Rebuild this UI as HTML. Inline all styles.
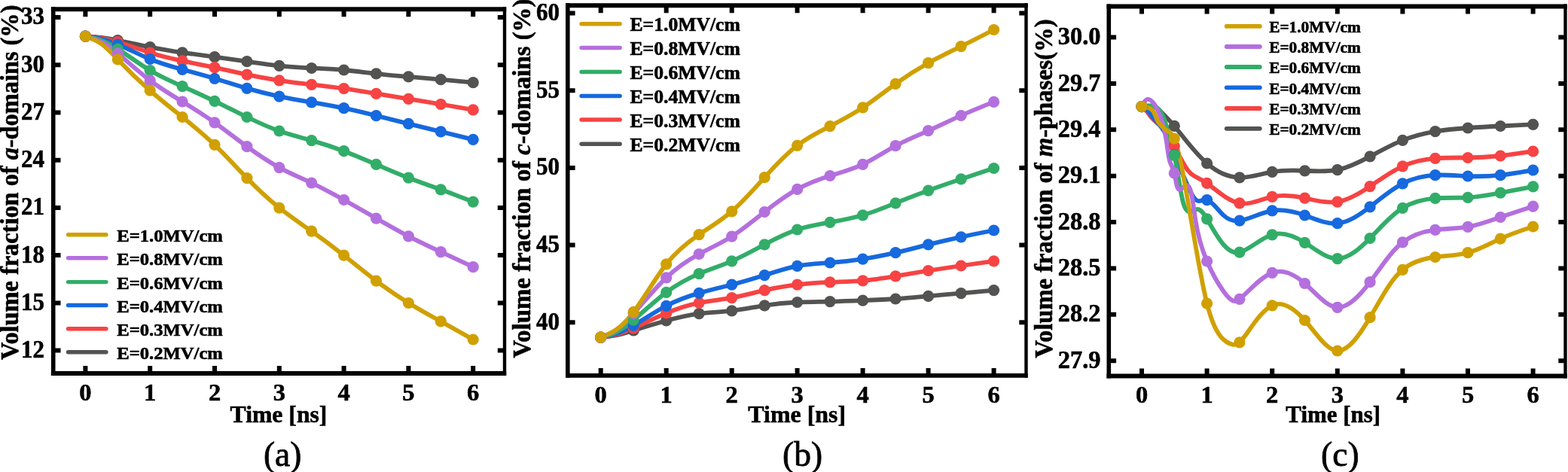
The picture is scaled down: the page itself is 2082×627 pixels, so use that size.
<!DOCTYPE html>
<html><head><meta charset="utf-8"><title>Volume fraction vs time</title>
<style>html,body{margin:0;padding:0;background:#fff;overflow:hidden}svg{display:block}</style>
</head><body>
<svg width="2082" height="627" viewBox="0 0 2082 627" font-family="'Liberation Serif','Times New Roman',serif">
<rect x="0" y="0" width="2082" height="627" fill="#fff"/>
<path d="M113.4,493.6V486.1M113.4,14.7V22.2M199.2,493.6V486.1M199.2,14.7V22.2M285.0,493.6V486.1M285.0,14.7V22.2M370.8,493.6V486.1M370.8,14.7V22.2M456.6,493.6V486.1M456.6,14.7V22.2M542.4,493.6V486.1M542.4,14.7V22.2M628.2,493.6V486.1M628.2,14.7V22.2M73.0,23.0H80.5M668.3,23.0H660.8M73.0,86.2H80.5M668.3,86.2H660.8M73.0,149.5H80.5M668.3,149.5H660.8M73.0,212.7H80.5M668.3,212.7H660.8M73.0,275.9H80.5M668.3,275.9H660.8M73.0,339.1H80.5M668.3,339.1H660.8M73.0,402.4H80.5M668.3,402.4H660.8M73.0,465.6H80.5M668.3,465.6H660.8" stroke="#000" stroke-width="6.0" fill="none"/>
<path d="M113.4,48.2C120.6,48.7 127.7,49.1 134.9,50.0C142.0,50.9 149.2,52.2 156.3,53.6C170.6,56.5 184.9,59.8 199.2,62.6C213.5,65.4 227.8,67.7 242.1,69.8C256.4,71.9 270.7,73.8 285.0,75.7C299.3,77.6 313.6,79.7 327.9,81.7C342.2,83.7 356.5,85.8 370.8,87.3C385.1,88.8 399.4,89.8 413.7,90.5C428.0,91.2 442.3,91.7 456.6,93.0C470.9,94.3 485.2,96.3 499.5,97.9C513.8,99.5 528.1,100.7 542.4,101.9C556.7,103.1 571.0,104.4 585.3,105.7C599.6,107.0 613.9,108.4 628.2,109.7" stroke="#535452" stroke-width="5.8" fill="none" stroke-linejoin="round" stroke-linecap="round"/>
<path d="M113.4,48.2C120.6,48.8 127.7,49.5 134.9,50.7C142.0,51.9 149.2,53.6 156.3,55.7C170.6,59.9 184.9,65.5 199.2,70.0C213.5,74.5 227.8,77.9 242.1,80.9C256.4,83.9 270.7,86.7 285.0,89.7C299.3,92.7 313.6,96.1 327.9,99.1C342.2,102.1 356.5,104.7 370.8,106.9C385.1,109.1 399.4,110.8 413.7,112.4C428.0,114.0 442.3,115.6 456.6,117.6C470.9,119.6 485.2,121.9 499.5,124.3C513.8,126.7 528.1,129.0 542.4,131.4C556.7,133.8 571.0,136.1 585.3,138.5C599.6,140.9 613.9,143.4 628.2,145.9" stroke="#F74343" stroke-width="5.8" fill="none" stroke-linejoin="round" stroke-linecap="round"/>
<path d="M113.4,48.2C120.6,49.1 127.7,50.0 134.9,51.8C142.0,53.5 149.2,56.0 156.3,59.0C170.6,64.9 184.9,72.6 199.2,78.5C213.5,84.4 227.8,88.4 242.1,92.3C256.4,96.2 270.7,100.0 285.0,104.3C299.3,108.6 313.6,113.3 327.9,117.4C342.2,121.5 356.5,125.1 370.8,128.1C385.1,131.1 399.4,133.5 413.7,135.9C428.0,138.3 442.3,140.7 456.6,143.7C470.9,146.7 485.2,150.1 499.5,153.7C513.8,157.3 528.1,160.9 542.4,164.4C556.7,167.9 571.0,171.4 585.3,174.9C599.6,178.4 613.9,181.9 628.2,185.4" stroke="#1669DE" stroke-width="5.8" fill="none" stroke-linejoin="round" stroke-linecap="round"/>
<path d="M113.4,48.2C120.6,49.6 127.7,51.0 134.9,53.7C142.0,56.5 149.2,60.5 156.3,65.0C170.6,74.0 184.9,84.9 199.2,93.5C213.5,102.1 227.8,108.2 242.1,114.6C256.4,121.0 270.7,127.5 285.0,134.4C299.3,141.3 313.6,148.6 327.9,155.5C342.2,162.4 356.5,169.0 370.8,174.0C385.1,179.0 399.4,182.5 413.7,186.6C428.0,190.7 442.3,195.3 456.6,200.7C470.9,206.1 485.2,212.3 499.5,218.4C513.8,224.5 528.1,230.7 542.4,236.2C556.7,241.7 571.0,246.6 585.3,251.8C599.6,257.0 613.9,262.6 628.2,268.1" stroke="#32AD68" stroke-width="5.8" fill="none" stroke-linejoin="round" stroke-linecap="round"/>
<path d="M113.4,48.2C120.6,50.1 127.7,52.0 134.9,55.7C142.0,59.5 149.2,65.1 156.3,71.0C170.6,82.9 184.9,96.0 199.2,106.9C213.5,117.8 227.8,126.3 242.1,135.0C256.4,143.7 270.7,152.7 285.0,162.8C299.3,172.9 313.6,184.2 327.9,194.7C342.2,205.2 356.5,214.8 370.8,222.6C385.1,230.4 399.4,236.2 413.7,243.0C428.0,249.8 442.3,257.5 456.6,265.5C470.9,273.5 485.2,281.9 499.5,290.1C513.8,298.3 528.1,306.5 542.4,313.9C556.7,321.3 571.0,327.9 585.3,334.6C599.6,341.3 613.9,348.0 628.2,354.7" stroke="#B46FDE" stroke-width="5.8" fill="none" stroke-linejoin="round" stroke-linecap="round"/>
<path d="M113.4,48.2C120.6,50.7 127.7,53.2 134.9,58.4C142.0,63.6 149.2,71.5 156.3,79.0C170.6,94.1 184.9,107.7 199.2,120.2C213.5,132.7 227.8,144.0 242.1,155.5C256.4,167.0 270.7,178.7 285.0,192.4C299.3,206.1 313.6,222.0 327.9,236.6C342.2,251.2 356.5,264.6 370.8,276.1C385.1,287.6 399.4,297.1 413.7,307.2C428.0,317.3 442.3,328.0 456.6,339.2C470.9,350.4 485.2,362.3 499.5,373.1C513.8,383.9 528.1,393.7 542.4,402.5C556.7,411.3 571.0,419.0 585.3,426.9C599.6,434.8 613.9,442.9 628.2,451.0" stroke="#D0A000" stroke-width="5.8" fill="none" stroke-linejoin="round" stroke-linecap="round"/>
<g fill="#535452"><circle cx="113.4" cy="48.2" r="7.6"/><circle cx="156.3" cy="53.6" r="7.6"/><circle cx="199.2" cy="62.6" r="7.6"/><circle cx="242.1" cy="69.8" r="7.6"/><circle cx="285.0" cy="75.7" r="7.6"/><circle cx="327.9" cy="81.7" r="7.6"/><circle cx="370.8" cy="87.3" r="7.6"/><circle cx="413.7" cy="90.5" r="7.6"/><circle cx="456.6" cy="93.0" r="7.6"/><circle cx="499.5" cy="97.9" r="7.6"/><circle cx="542.4" cy="101.9" r="7.6"/><circle cx="585.3" cy="105.7" r="7.6"/><circle cx="628.2" cy="109.7" r="7.6"/></g>
<g fill="#F74343"><circle cx="113.4" cy="48.2" r="7.6"/><circle cx="156.3" cy="55.7" r="7.6"/><circle cx="199.2" cy="70.0" r="7.6"/><circle cx="242.1" cy="80.9" r="7.6"/><circle cx="285.0" cy="89.7" r="7.6"/><circle cx="327.9" cy="99.1" r="7.6"/><circle cx="370.8" cy="106.9" r="7.6"/><circle cx="413.7" cy="112.4" r="7.6"/><circle cx="456.6" cy="117.6" r="7.6"/><circle cx="499.5" cy="124.3" r="7.6"/><circle cx="542.4" cy="131.4" r="7.6"/><circle cx="585.3" cy="138.5" r="7.6"/><circle cx="628.2" cy="145.9" r="7.6"/></g>
<g fill="#1669DE"><circle cx="113.4" cy="48.2" r="7.6"/><circle cx="156.3" cy="59.0" r="7.6"/><circle cx="199.2" cy="78.5" r="7.6"/><circle cx="242.1" cy="92.3" r="7.6"/><circle cx="285.0" cy="104.3" r="7.6"/><circle cx="327.9" cy="117.4" r="7.6"/><circle cx="370.8" cy="128.1" r="7.6"/><circle cx="413.7" cy="135.9" r="7.6"/><circle cx="456.6" cy="143.7" r="7.6"/><circle cx="499.5" cy="153.7" r="7.6"/><circle cx="542.4" cy="164.4" r="7.6"/><circle cx="585.3" cy="174.9" r="7.6"/><circle cx="628.2" cy="185.4" r="7.6"/></g>
<g fill="#32AD68"><circle cx="113.4" cy="48.2" r="7.6"/><circle cx="156.3" cy="65.0" r="7.6"/><circle cx="199.2" cy="93.5" r="7.6"/><circle cx="242.1" cy="114.6" r="7.6"/><circle cx="285.0" cy="134.4" r="7.6"/><circle cx="327.9" cy="155.5" r="7.6"/><circle cx="370.8" cy="174.0" r="7.6"/><circle cx="413.7" cy="186.6" r="7.6"/><circle cx="456.6" cy="200.7" r="7.6"/><circle cx="499.5" cy="218.4" r="7.6"/><circle cx="542.4" cy="236.2" r="7.6"/><circle cx="585.3" cy="251.8" r="7.6"/><circle cx="628.2" cy="268.1" r="7.6"/></g>
<g fill="#B46FDE"><circle cx="113.4" cy="48.2" r="7.6"/><circle cx="156.3" cy="71.0" r="7.6"/><circle cx="199.2" cy="106.9" r="7.6"/><circle cx="242.1" cy="135.0" r="7.6"/><circle cx="285.0" cy="162.8" r="7.6"/><circle cx="327.9" cy="194.7" r="7.6"/><circle cx="370.8" cy="222.6" r="7.6"/><circle cx="413.7" cy="243.0" r="7.6"/><circle cx="456.6" cy="265.5" r="7.6"/><circle cx="499.5" cy="290.1" r="7.6"/><circle cx="542.4" cy="313.9" r="7.6"/><circle cx="585.3" cy="334.6" r="7.6"/><circle cx="628.2" cy="354.7" r="7.6"/></g>
<g fill="#D0A000"><circle cx="113.4" cy="48.2" r="7.6"/><circle cx="156.3" cy="79.0" r="7.6"/><circle cx="199.2" cy="120.2" r="7.6"/><circle cx="242.1" cy="155.5" r="7.6"/><circle cx="285.0" cy="192.4" r="7.6"/><circle cx="327.9" cy="236.6" r="7.6"/><circle cx="370.8" cy="276.1" r="7.6"/><circle cx="413.7" cy="307.2" r="7.6"/><circle cx="456.6" cy="339.2" r="7.6"/><circle cx="499.5" cy="373.1" r="7.6"/><circle cx="542.4" cy="402.5" r="7.6"/><circle cx="585.3" cy="426.9" r="7.6"/><circle cx="628.2" cy="451.0" r="7.6"/></g>
<path d="M70.7,9.2V498.9" stroke="#000" stroke-width="5.6" fill="none"/>
<path d="M670.0,9.2V498.9" stroke="#000" stroke-width="4.4" fill="none"/>
<path d="M67.9,12.2H672.2" stroke="#000" stroke-width="6.0" fill="none"/>
<path d="M67.9,496.0H672.2" stroke="#000" stroke-width="5.8" fill="none"/>
<text x="58.9" y="32.4" font-size="33.0" font-weight="bold" text-anchor="end" textLength="30.9" lengthAdjust="spacingAndGlyphs" stroke="#000" stroke-width="0.60">33</text>
<text x="58.9" y="95.6" font-size="33.0" font-weight="bold" text-anchor="end" textLength="30.9" lengthAdjust="spacingAndGlyphs" stroke="#000" stroke-width="0.60">30</text>
<text x="58.9" y="158.9" font-size="33.0" font-weight="bold" text-anchor="end" textLength="30.9" lengthAdjust="spacingAndGlyphs" stroke="#000" stroke-width="0.60">27</text>
<text x="58.9" y="222.1" font-size="33.0" font-weight="bold" text-anchor="end" textLength="30.9" lengthAdjust="spacingAndGlyphs" stroke="#000" stroke-width="0.60">24</text>
<text x="58.9" y="285.3" font-size="33.0" font-weight="bold" text-anchor="end" textLength="30.9" lengthAdjust="spacingAndGlyphs" stroke="#000" stroke-width="0.60">21</text>
<text x="58.9" y="348.5" font-size="33.0" font-weight="bold" text-anchor="end" textLength="30.9" lengthAdjust="spacingAndGlyphs" stroke="#000" stroke-width="0.60">18</text>
<text x="58.9" y="411.8" font-size="33.0" font-weight="bold" text-anchor="end" textLength="30.9" lengthAdjust="spacingAndGlyphs" stroke="#000" stroke-width="0.60">15</text>
<text x="58.9" y="475.0" font-size="33.0" font-weight="bold" text-anchor="end" textLength="30.9" lengthAdjust="spacingAndGlyphs" stroke="#000" stroke-width="0.60">12</text>
<text x="113.4" y="532.2" font-size="32.5" font-weight="bold" text-anchor="middle" stroke="#000" stroke-width="0.60">0</text>
<text x="199.2" y="532.2" font-size="32.5" font-weight="bold" text-anchor="middle" stroke="#000" stroke-width="0.60">1</text>
<text x="285.0" y="532.2" font-size="32.5" font-weight="bold" text-anchor="middle" stroke="#000" stroke-width="0.60">2</text>
<text x="370.8" y="532.2" font-size="32.5" font-weight="bold" text-anchor="middle" stroke="#000" stroke-width="0.60">3</text>
<text x="456.6" y="532.2" font-size="32.5" font-weight="bold" text-anchor="middle" stroke="#000" stroke-width="0.60">4</text>
<text x="542.4" y="532.2" font-size="32.5" font-weight="bold" text-anchor="middle" stroke="#000" stroke-width="0.60">5</text>
<text x="628.2" y="532.2" font-size="32.5" font-weight="bold" text-anchor="middle" stroke="#000" stroke-width="0.60">6</text>
<text x="370.0" y="560.7" font-size="32.4" font-weight="bold" text-anchor="middle" textLength="128.8" lengthAdjust="spacingAndGlyphs" stroke="#000" stroke-width="0.60">Time [ns]</text>
<text transform="translate(23.8,478.0) rotate(-90)" font-size="33.0" font-weight="bold" textLength="471.5" lengthAdjust="spacingAndGlyphs" stroke="#000" stroke-width="0.60">Volume fraction of <tspan font-style="italic">a</tspan>-domains (%)</text>
<path d="M90.5,311.7H140.9" stroke="#D0A000" stroke-width="5.4" stroke-linecap="round"/>
<text x="155.3" y="320.7" font-size="24.0" font-weight="bold" text-anchor="start" textLength="140.6" lengthAdjust="spacingAndGlyphs" stroke="#000" stroke-width="0.60">E=1.0MV/cm</text>
<path d="M90.5,342.7H140.9" stroke="#B46FDE" stroke-width="5.4" stroke-linecap="round"/>
<text x="155.3" y="351.7" font-size="24.0" font-weight="bold" text-anchor="start" textLength="140.6" lengthAdjust="spacingAndGlyphs" stroke="#000" stroke-width="0.60">E=0.8MV/cm</text>
<path d="M90.5,374.6H140.9" stroke="#32AD68" stroke-width="5.4" stroke-linecap="round"/>
<text x="155.3" y="383.6" font-size="24.0" font-weight="bold" text-anchor="start" textLength="140.6" lengthAdjust="spacingAndGlyphs" stroke="#000" stroke-width="0.60">E=0.6MV/cm</text>
<path d="M90.5,405.5H140.9" stroke="#1669DE" stroke-width="5.4" stroke-linecap="round"/>
<text x="155.3" y="414.5" font-size="24.0" font-weight="bold" text-anchor="start" textLength="140.6" lengthAdjust="spacingAndGlyphs" stroke="#000" stroke-width="0.60">E=0.4MV/cm</text>
<path d="M90.5,436.8H140.9" stroke="#F74343" stroke-width="5.4" stroke-linecap="round"/>
<text x="155.3" y="445.8" font-size="24.0" font-weight="bold" text-anchor="start" textLength="140.6" lengthAdjust="spacingAndGlyphs" stroke="#000" stroke-width="0.60">E=0.3MV/cm</text>
<path d="M90.5,467.8H140.9" stroke="#535452" stroke-width="5.4" stroke-linecap="round"/>
<text x="155.3" y="476.8" font-size="24.0" font-weight="bold" text-anchor="start" textLength="140.6" lengthAdjust="spacingAndGlyphs" stroke="#000" stroke-width="0.60">E=0.2MV/cm</text>
<text x="375.2" y="618.6" font-size="45.5" font-weight="normal" text-anchor="middle" stroke="#000" stroke-width="0.80">(a)</text>
<path d="M797.7,496.4V488.9M797.7,9.7V17.2M884.7,496.4V488.9M884.7,9.7V17.2M971.7,496.4V488.9M971.7,9.7V17.2M1058.6,496.4V488.9M1058.6,9.7V17.2M1145.6,496.4V488.9M1145.6,9.7V17.2M1232.6,496.4V488.9M1232.6,9.7V17.2M1319.6,496.4V488.9M1319.6,9.7V17.2M756.1,17.5H763.6M1360.8,17.5H1353.3M756.1,120.2H763.6M1360.8,120.2H1353.3M756.1,222.9H763.6M1360.8,222.9H1353.3M756.1,325.6H763.6M1360.8,325.6H1353.3M756.1,428.3H763.6M1360.8,428.3H1353.3" stroke="#000" stroke-width="6.0" fill="none"/>
<path d="M797.7,448.2C804.9,447.5 812.2,446.7 819.4,445.2C826.7,443.6 833.9,441.3 841.2,439.0C855.7,434.4 870.2,430.0 884.7,426.0C899.2,422.0 913.7,418.5 928.2,416.6C942.7,414.7 957.2,414.5 971.7,412.8C986.2,411.1 1000.7,408.0 1015.2,405.8C1029.6,403.6 1044.1,402.2 1058.6,401.5C1073.1,400.8 1087.6,400.9 1102.1,400.6C1116.6,400.3 1131.1,399.8 1145.6,399.2C1160.1,398.6 1174.6,398.0 1189.1,397.0C1203.6,396.0 1218.1,394.6 1232.6,393.3C1247.1,392.0 1261.6,390.9 1276.1,389.6C1290.6,388.3 1305.1,387.0 1319.6,385.6" stroke="#535452" stroke-width="5.8" fill="none" stroke-linejoin="round" stroke-linecap="round"/>
<path d="M797.7,448.2C804.9,447.2 812.2,446.1 819.4,444.1C826.7,442.1 833.9,439.1 841.2,435.9C855.7,429.4 870.2,422.0 884.7,415.9C899.2,409.8 913.7,405.2 928.2,402.3C942.7,399.4 957.2,398.2 971.7,395.6C986.2,393.0 1000.7,389.0 1015.2,385.7C1029.6,382.4 1044.1,380.0 1058.6,378.2C1073.1,376.4 1087.6,375.4 1102.1,374.8C1116.6,374.2 1131.1,374.0 1145.6,372.8C1160.1,371.6 1174.6,369.2 1189.1,366.8C1203.6,364.4 1218.1,361.8 1232.6,359.5C1247.1,357.2 1261.6,355.1 1276.1,353.0C1290.6,350.9 1305.1,348.9 1319.6,346.9" stroke="#F74343" stroke-width="5.8" fill="none" stroke-linejoin="round" stroke-linecap="round"/>
<path d="M797.7,448.2C804.9,446.9 812.2,445.5 819.4,443.0C826.7,440.4 833.9,436.5 841.2,432.3C855.7,423.8 870.2,413.9 884.7,406.3C899.2,398.7 913.7,393.6 928.2,389.4C942.7,385.2 957.2,381.9 971.7,378.2C986.2,374.5 1000.7,370.2 1015.2,365.6C1029.6,361.0 1044.1,356.0 1058.6,353.3C1073.1,350.6 1087.6,350.1 1102.1,349.0C1116.6,347.9 1131.1,346.3 1145.6,344.1C1160.1,341.9 1174.6,339.0 1189.1,335.7C1203.6,332.4 1218.1,328.5 1232.6,324.9C1247.1,321.3 1261.6,317.9 1276.1,314.8C1290.6,311.7 1305.1,308.8 1319.6,306.0" stroke="#1669DE" stroke-width="5.8" fill="none" stroke-linejoin="round" stroke-linecap="round"/>
<path d="M797.7,448.2C804.9,446.3 812.2,444.4 819.4,440.6C826.7,436.8 833.9,431.2 841.2,425.1C855.7,413.0 870.2,399.2 884.7,388.4C899.2,377.6 913.7,369.8 928.2,363.7C942.7,357.6 957.2,353.2 971.7,346.9C986.2,340.6 1000.7,332.5 1015.2,324.8C1029.6,317.1 1044.1,309.8 1058.6,305.0C1073.1,300.2 1087.6,297.8 1102.1,295.3C1116.6,292.8 1131.1,290.1 1145.6,285.8C1160.1,281.5 1174.6,275.6 1189.1,269.8C1203.6,264.0 1218.1,258.4 1232.6,253.1C1247.1,247.8 1261.6,242.8 1276.1,237.9C1290.6,233.0 1305.1,228.3 1319.6,223.5" stroke="#32AD68" stroke-width="5.8" fill="none" stroke-linejoin="round" stroke-linecap="round"/>
<path d="M797.7,448.2C804.9,445.6 812.2,443.0 819.4,437.7C826.7,432.5 833.9,424.7 841.2,416.5C855.7,400.2 870.2,382.5 884.7,368.8C899.2,355.1 913.7,345.5 928.2,337.5C942.7,329.5 957.2,323.3 971.7,314.1C986.2,304.9 1000.7,292.9 1015.2,281.5C1029.6,270.1 1044.1,259.4 1058.6,251.4C1073.1,243.4 1087.6,238.1 1102.1,233.5C1116.6,228.9 1131.1,225.1 1145.6,218.3C1160.1,211.5 1174.6,201.5 1189.1,193.7C1203.6,185.9 1218.1,180.1 1232.6,173.6C1247.1,167.1 1261.6,160.0 1276.1,153.5C1290.6,147.0 1305.1,141.2 1319.6,135.4" stroke="#B46FDE" stroke-width="5.8" fill="none" stroke-linejoin="round" stroke-linecap="round"/>
<path d="M797.7,448.2C804.9,445.3 812.2,442.4 819.4,437.0C826.7,431.7 833.9,423.9 841.2,414.4C855.7,395.4 870.2,369.4 884.7,350.9C899.2,332.4 913.7,321.4 928.2,311.6C942.7,301.8 957.2,293.3 971.7,280.8C986.2,268.3 1000.7,251.6 1015.2,235.7C1029.6,219.8 1044.1,204.5 1058.6,193.3C1073.1,182.1 1087.6,175.0 1102.1,167.6C1116.6,160.2 1131.1,152.5 1145.6,142.9C1160.1,133.3 1174.6,121.7 1189.1,111.3C1203.6,100.9 1218.1,91.7 1232.6,83.7C1247.1,75.7 1261.6,68.8 1276.1,61.6C1290.6,54.4 1305.1,47.0 1319.6,39.5" stroke="#D0A000" stroke-width="5.8" fill="none" stroke-linejoin="round" stroke-linecap="round"/>
<g fill="#535452"><circle cx="797.7" cy="448.2" r="7.6"/><circle cx="841.2" cy="439.0" r="7.6"/><circle cx="884.7" cy="426.0" r="7.6"/><circle cx="928.2" cy="416.6" r="7.6"/><circle cx="971.7" cy="412.8" r="7.6"/><circle cx="1015.2" cy="405.8" r="7.6"/><circle cx="1058.6" cy="401.5" r="7.6"/><circle cx="1102.1" cy="400.6" r="7.6"/><circle cx="1145.6" cy="399.2" r="7.6"/><circle cx="1189.1" cy="397.0" r="7.6"/><circle cx="1232.6" cy="393.3" r="7.6"/><circle cx="1276.1" cy="389.6" r="7.6"/><circle cx="1319.6" cy="385.6" r="7.6"/></g>
<g fill="#F74343"><circle cx="797.7" cy="448.2" r="7.6"/><circle cx="841.2" cy="435.9" r="7.6"/><circle cx="884.7" cy="415.9" r="7.6"/><circle cx="928.2" cy="402.3" r="7.6"/><circle cx="971.7" cy="395.6" r="7.6"/><circle cx="1015.2" cy="385.7" r="7.6"/><circle cx="1058.6" cy="378.2" r="7.6"/><circle cx="1102.1" cy="374.8" r="7.6"/><circle cx="1145.6" cy="372.8" r="7.6"/><circle cx="1189.1" cy="366.8" r="7.6"/><circle cx="1232.6" cy="359.5" r="7.6"/><circle cx="1276.1" cy="353.0" r="7.6"/><circle cx="1319.6" cy="346.9" r="7.6"/></g>
<g fill="#1669DE"><circle cx="797.7" cy="448.2" r="7.6"/><circle cx="841.2" cy="432.3" r="7.6"/><circle cx="884.7" cy="406.3" r="7.6"/><circle cx="928.2" cy="389.4" r="7.6"/><circle cx="971.7" cy="378.2" r="7.6"/><circle cx="1015.2" cy="365.6" r="7.6"/><circle cx="1058.6" cy="353.3" r="7.6"/><circle cx="1102.1" cy="349.0" r="7.6"/><circle cx="1145.6" cy="344.1" r="7.6"/><circle cx="1189.1" cy="335.7" r="7.6"/><circle cx="1232.6" cy="324.9" r="7.6"/><circle cx="1276.1" cy="314.8" r="7.6"/><circle cx="1319.6" cy="306.0" r="7.6"/></g>
<g fill="#32AD68"><circle cx="797.7" cy="448.2" r="7.6"/><circle cx="841.2" cy="425.1" r="7.6"/><circle cx="884.7" cy="388.4" r="7.6"/><circle cx="928.2" cy="363.7" r="7.6"/><circle cx="971.7" cy="346.9" r="7.6"/><circle cx="1015.2" cy="324.8" r="7.6"/><circle cx="1058.6" cy="305.0" r="7.6"/><circle cx="1102.1" cy="295.3" r="7.6"/><circle cx="1145.6" cy="285.8" r="7.6"/><circle cx="1189.1" cy="269.8" r="7.6"/><circle cx="1232.6" cy="253.1" r="7.6"/><circle cx="1276.1" cy="237.9" r="7.6"/><circle cx="1319.6" cy="223.5" r="7.6"/></g>
<g fill="#B46FDE"><circle cx="797.7" cy="448.2" r="7.6"/><circle cx="841.2" cy="416.5" r="7.6"/><circle cx="884.7" cy="368.8" r="7.6"/><circle cx="928.2" cy="337.5" r="7.6"/><circle cx="971.7" cy="314.1" r="7.6"/><circle cx="1015.2" cy="281.5" r="7.6"/><circle cx="1058.6" cy="251.4" r="7.6"/><circle cx="1102.1" cy="233.5" r="7.6"/><circle cx="1145.6" cy="218.3" r="7.6"/><circle cx="1189.1" cy="193.7" r="7.6"/><circle cx="1232.6" cy="173.6" r="7.6"/><circle cx="1276.1" cy="153.5" r="7.6"/><circle cx="1319.6" cy="135.4" r="7.6"/></g>
<g fill="#D0A000"><circle cx="797.7" cy="448.2" r="7.6"/><circle cx="841.2" cy="414.4" r="7.6"/><circle cx="884.7" cy="350.9" r="7.6"/><circle cx="928.2" cy="311.6" r="7.6"/><circle cx="971.7" cy="280.8" r="7.6"/><circle cx="1015.2" cy="235.7" r="7.6"/><circle cx="1058.6" cy="193.3" r="7.6"/><circle cx="1102.1" cy="167.6" r="7.6"/><circle cx="1145.6" cy="142.9" r="7.6"/><circle cx="1189.1" cy="111.3" r="7.6"/><circle cx="1232.6" cy="83.7" r="7.6"/><circle cx="1276.1" cy="61.6" r="7.6"/><circle cx="1319.6" cy="39.5" r="7.6"/></g>
<path d="M753.8,4.2V501.7" stroke="#000" stroke-width="5.6" fill="none"/>
<path d="M1362.5,4.2V501.7" stroke="#000" stroke-width="4.4" fill="none"/>
<path d="M751.0,7.2H1364.7" stroke="#000" stroke-width="6.0" fill="none"/>
<path d="M751.0,498.8H1364.7" stroke="#000" stroke-width="5.8" fill="none"/>
<text x="742.9" y="26.8" font-size="33.0" font-weight="bold" text-anchor="end" textLength="31.0" lengthAdjust="spacingAndGlyphs" stroke="#000" stroke-width="0.60">60</text>
<text x="742.9" y="129.5" font-size="33.0" font-weight="bold" text-anchor="end" textLength="31.0" lengthAdjust="spacingAndGlyphs" stroke="#000" stroke-width="0.60">55</text>
<text x="742.9" y="232.2" font-size="33.0" font-weight="bold" text-anchor="end" textLength="31.0" lengthAdjust="spacingAndGlyphs" stroke="#000" stroke-width="0.60">50</text>
<text x="742.9" y="334.9" font-size="33.0" font-weight="bold" text-anchor="end" textLength="31.0" lengthAdjust="spacingAndGlyphs" stroke="#000" stroke-width="0.60">45</text>
<text x="742.9" y="437.6" font-size="33.0" font-weight="bold" text-anchor="end" textLength="31.0" lengthAdjust="spacingAndGlyphs" stroke="#000" stroke-width="0.60">40</text>
<text x="797.7" y="535.3" font-size="32.5" font-weight="bold" text-anchor="middle" stroke="#000" stroke-width="0.60">0</text>
<text x="884.7" y="535.3" font-size="32.5" font-weight="bold" text-anchor="middle" stroke="#000" stroke-width="0.60">1</text>
<text x="971.7" y="535.3" font-size="32.5" font-weight="bold" text-anchor="middle" stroke="#000" stroke-width="0.60">2</text>
<text x="1058.6" y="535.3" font-size="32.5" font-weight="bold" text-anchor="middle" stroke="#000" stroke-width="0.60">3</text>
<text x="1145.6" y="535.3" font-size="32.5" font-weight="bold" text-anchor="middle" stroke="#000" stroke-width="0.60">4</text>
<text x="1232.6" y="535.3" font-size="32.5" font-weight="bold" text-anchor="middle" stroke="#000" stroke-width="0.60">5</text>
<text x="1319.6" y="535.3" font-size="32.5" font-weight="bold" text-anchor="middle" stroke="#000" stroke-width="0.60">6</text>
<text x="1058.2" y="560.8" font-size="32.4" font-weight="bold" text-anchor="middle" textLength="129.8" lengthAdjust="spacingAndGlyphs" stroke="#000" stroke-width="0.60">Time [ns]</text>
<text transform="translate(704.3,475.6) rotate(-90)" font-size="33.5" font-weight="bold" textLength="477.0" lengthAdjust="spacingAndGlyphs" stroke="#000" stroke-width="0.60">Volume fraction of <tspan font-style="italic">c</tspan>-domains (%)</text>
<path d="M772.1,31.7H823.1" stroke="#D0A000" stroke-width="5.5" stroke-linecap="round"/>
<text x="836.4" y="41.3" font-size="26.0" font-weight="bold" text-anchor="start" textLength="146.5" lengthAdjust="spacingAndGlyphs" stroke="#000" stroke-width="0.60">E=1.0MV/cm</text>
<path d="M772.1,63.6H823.1" stroke="#B46FDE" stroke-width="5.5" stroke-linecap="round"/>
<text x="836.4" y="73.2" font-size="26.0" font-weight="bold" text-anchor="start" textLength="146.5" lengthAdjust="spacingAndGlyphs" stroke="#000" stroke-width="0.60">E=0.8MV/cm</text>
<path d="M772.1,95.5H823.1" stroke="#32AD68" stroke-width="5.5" stroke-linecap="round"/>
<text x="836.4" y="105.1" font-size="26.0" font-weight="bold" text-anchor="start" textLength="146.5" lengthAdjust="spacingAndGlyphs" stroke="#000" stroke-width="0.60">E=0.6MV/cm</text>
<path d="M772.1,127.5H823.1" stroke="#1669DE" stroke-width="5.5" stroke-linecap="round"/>
<text x="836.4" y="137.1" font-size="26.0" font-weight="bold" text-anchor="start" textLength="146.5" lengthAdjust="spacingAndGlyphs" stroke="#000" stroke-width="0.60">E=0.4MV/cm</text>
<path d="M772.1,159.1H823.1" stroke="#F74343" stroke-width="5.5" stroke-linecap="round"/>
<text x="836.4" y="168.7" font-size="26.0" font-weight="bold" text-anchor="start" textLength="146.5" lengthAdjust="spacingAndGlyphs" stroke="#000" stroke-width="0.60">E=0.3MV/cm</text>
<path d="M772.1,191.3H823.1" stroke="#535452" stroke-width="5.5" stroke-linecap="round"/>
<text x="836.4" y="200.9" font-size="26.0" font-weight="bold" text-anchor="start" textLength="146.5" lengthAdjust="spacingAndGlyphs" stroke="#000" stroke-width="0.60">E=0.2MV/cm</text>
<text x="1065.6" y="618.6" font-size="45.5" font-weight="normal" text-anchor="middle" stroke="#000" stroke-width="0.80">(b)</text>
<path d="M1516.0,497.1V489.6M1516.0,11.1V18.6M1602.6,497.1V489.6M1602.6,11.1V18.6M1689.2,497.1V489.6M1689.2,11.1V18.6M1775.8,497.1V489.6M1775.8,11.1V18.6M1862.4,497.1V489.6M1862.4,11.1V18.6M1949.0,497.1V489.6M1949.0,11.1V18.6M2035.6,497.1V489.6M2035.6,11.1V18.6M1474.6,49.5H1482.1M2076.8,49.5H2069.3M1474.6,110.9H1482.1M2076.8,110.9H2069.3M1474.6,172.3H1482.1M2076.8,172.3H2069.3M1474.6,233.7H1482.1M2076.8,233.7H2069.3M1474.6,295.1H1482.1M2076.8,295.1H2069.3M1474.6,356.4H1482.1M2076.8,356.4H2069.3M1474.6,417.8H1482.1M2076.8,417.8H2069.3M1474.6,479.2H1482.1M2076.8,479.2H2069.3" stroke="#000" stroke-width="6.0" fill="none"/>
<path d="M1516.0,141.6C1521.6,140.7 1527.2,139.7 1532.0,141.5C1536.9,143.3 1541.1,148.0 1545.0,152.0C1549.4,156.5 1553.4,160.3 1559.3,167.3C1569.7,179.8 1585.9,202.6 1602.6,217.0C1616.7,229.2 1631.1,235.5 1645.9,235.8C1660.1,236.1 1674.7,230.9 1689.2,228.4C1703.6,225.9 1718.0,226.1 1732.5,226.8C1747.0,227.5 1761.6,228.6 1775.8,225.7C1790.6,222.7 1804.9,215.5 1819.1,207.9C1833.5,200.2 1847.7,192.3 1862.4,186.4C1876.5,180.8 1891.1,177.1 1905.7,174.6C1920.1,172.2 1934.5,171.0 1949.0,170.0C1963.4,169.0 1977.9,168.2 1992.3,167.5C2006.7,166.8 2021.2,166.0 2035.6,165.3" stroke="#535452" stroke-width="5.8" fill="none" stroke-linejoin="round" stroke-linecap="round"/>
<path d="M1516.0,141.6C1518.1,143.2 1520.1,144.9 1522.0,147.0C1524.1,149.4 1525.9,152.3 1528.0,155.0C1530.3,157.9 1533.0,160.4 1536.0,163.0C1539.3,165.8 1543.0,168.7 1546.0,172.0C1548.9,175.2 1551.1,178.7 1553.0,182.0C1555.0,185.4 1556.6,188.5 1559.3,194.0C1563.8,203.0 1571.4,218.4 1577.0,226.0C1580.2,230.4 1582.7,232.2 1586.0,234.0C1590.1,236.3 1595.5,238.4 1602.6,243.4C1614.1,251.5 1630.2,267.0 1645.9,269.9C1660.5,272.6 1674.8,264.5 1689.2,261.4C1703.5,258.3 1718.0,260.2 1732.5,263.2C1747.0,266.2 1761.6,270.2 1775.8,268.1C1790.7,265.9 1805.1,257.1 1819.1,247.6C1833.5,237.9 1847.5,227.5 1862.4,220.8C1876.3,214.5 1891.0,211.5 1905.7,210.3C1920.2,209.1 1934.6,209.6 1949.0,209.5C1963.4,209.4 1977.9,208.5 1992.3,207.0C2006.8,205.5 2021.2,203.2 2035.6,201.0" stroke="#F74343" stroke-width="5.8" fill="none" stroke-linejoin="round" stroke-linecap="round"/>
<path d="M1516.0,141.6C1518.9,143.2 1521.8,144.8 1524.0,147.0C1526.3,149.3 1527.9,152.2 1530.0,155.0C1532.3,158.0 1535.3,160.9 1538.0,164.0C1540.9,167.3 1543.5,170.9 1546.0,175.0C1548.6,179.4 1551.1,184.3 1553.0,189.0C1555.1,194.0 1556.5,198.6 1559.3,205.5C1563.4,215.9 1570.4,231.4 1575.0,242.0C1578.2,249.3 1580.2,254.1 1583.0,259.0C1585.2,262.8 1587.7,266.5 1591.0,267.0C1594.3,267.5 1598.3,264.6 1602.6,265.6C1609.5,267.3 1617.1,279.0 1624.6,286.0C1631.1,292.0 1637.5,294.4 1645.9,293.2C1657.9,291.5 1674.0,282.5 1689.2,279.9C1704.1,277.3 1718.2,280.9 1732.5,286.0C1746.9,291.2 1761.5,297.9 1775.8,296.7C1790.7,295.4 1805.2,285.5 1819.1,274.8C1833.6,263.6 1847.4,251.5 1862.4,243.8C1876.2,236.8 1891.0,233.5 1905.7,232.7C1920.2,231.9 1934.6,233.4 1949.0,234.0C1963.4,234.6 1977.9,234.2 1992.3,232.7C2006.8,231.2 2021.2,228.6 2035.6,226.0" stroke="#1669DE" stroke-width="5.8" fill="none" stroke-linejoin="round" stroke-linecap="round"/>
<path d="M1516.0,141.6C1520.1,141.0 1524.2,140.3 1528.0,140.5C1531.3,140.6 1534.4,141.4 1537.0,143.5C1540.3,146.2 1542.9,151.0 1545.0,156.0C1547.4,161.8 1549.0,168.0 1551.0,175.0C1553.5,183.9 1556.7,194.3 1559.3,206.3C1562.5,221.1 1565.0,238.3 1568.0,255.0C1570.3,267.5 1572.8,279.7 1578.0,281.0C1581.5,281.9 1586.1,278.0 1590.0,278.0C1594.7,278.0 1598.4,283.7 1602.6,290.8C1608.9,301.5 1616.4,315.5 1624.6,325.0C1630.8,332.3 1637.5,337.0 1645.9,335.2C1658.0,332.6 1673.7,316.4 1689.2,311.8C1703.9,307.4 1718.4,313.5 1732.5,322.3C1747.2,331.5 1761.4,343.7 1775.8,343.6C1790.6,343.5 1805.4,330.4 1819.1,316.5C1833.8,301.6 1847.0,285.8 1862.4,276.3C1875.8,268.0 1890.8,264.6 1905.7,263.4C1920.2,262.2 1934.6,263.2 1949.0,262.4C1963.4,261.6 1977.9,258.9 1992.3,256.2C2006.8,253.5 2021.2,250.7 2035.6,247.9" stroke="#32AD68" stroke-width="5.8" fill="none" stroke-linejoin="round" stroke-linecap="round"/>
<path d="M1516.0,141.6C1518.1,137.2 1520.2,132.8 1523.0,132.0C1525.2,131.4 1527.9,133.0 1530.0,135.0C1532.3,137.2 1533.9,139.8 1535.5,143.0C1537.5,147.0 1539.7,152.0 1541.5,157.0C1543.4,162.2 1544.8,167.6 1546.0,173.0C1547.3,178.9 1548.5,184.9 1549.5,192.0C1550.6,199.8 1551.5,208.9 1553.5,215.0C1555.2,220.1 1557.6,223.2 1559.3,230.0C1561.3,238.1 1562.2,251.6 1566.0,252.0C1568.7,252.3 1572.9,246.0 1576.0,246.0C1582.1,245.9 1584.0,270.1 1587.0,290.0C1590.4,312.7 1595.3,330.0 1602.6,347.0C1609.0,362.0 1617.3,376.8 1624.6,387.0C1629.1,393.3 1633.3,397.9 1637.0,399.5C1639.7,400.6 1642.1,400.2 1645.9,397.4C1655.2,390.4 1672.5,368.4 1689.2,362.4C1704.3,357.0 1718.8,364.6 1732.5,376.5C1747.4,389.5 1761.3,407.5 1775.8,408.3C1790.5,409.1 1805.7,392.3 1819.1,374.7C1834.0,355.0 1846.6,334.2 1862.4,321.9C1875.4,311.8 1890.6,307.4 1905.7,305.4C1920.3,303.5 1934.7,303.8 1949.0,301.4C1963.5,298.9 1977.9,293.5 1992.3,288.5C2006.7,283.5 2021.2,278.8 2035.6,274.2" stroke="#B46FDE" stroke-width="5.8" fill="none" stroke-linejoin="round" stroke-linecap="round"/>
<path d="M1516.0,141.6C1520.0,142.0 1524.0,142.4 1527.0,144.0C1529.7,145.5 1531.6,148.0 1533.0,151.0C1534.6,154.3 1535.7,158.3 1537.5,161.5C1539.2,164.5 1541.6,166.8 1544.0,169.0C1546.3,171.1 1548.7,173.0 1551.0,174.5C1553.8,176.2 1556.4,177.3 1559.3,184.1C1571.4,212.8 1587.6,343.7 1602.6,403.2C1609.9,432.1 1616.9,444.2 1624.6,451.0C1628.4,454.4 1632.4,456.5 1636.0,457.5C1639.2,458.4 1642.0,458.5 1645.9,454.9C1655.7,445.9 1672.1,413.7 1689.2,405.8C1703.8,399.1 1718.8,410.1 1732.5,425.5C1747.8,442.7 1761.5,465.4 1775.8,466.0C1790.5,466.6 1805.8,444.1 1819.1,421.7C1833.9,396.8 1846.0,372.1 1862.4,358.3C1875.2,347.6 1890.5,343.5 1905.7,341.5C1920.4,339.5 1934.9,339.5 1949.0,335.7C1963.6,331.7 1977.9,323.6 1992.3,317.1C2006.6,310.7 2021.1,305.8 2035.6,301.0" stroke="#D0A000" stroke-width="5.8" fill="none" stroke-linejoin="round" stroke-linecap="round"/>
<g fill="#535452"><circle cx="1516.0" cy="141.6" r="7.6"/><circle cx="1559.3" cy="167.3" r="7.6"/><circle cx="1602.6" cy="217.0" r="7.6"/><circle cx="1645.9" cy="235.8" r="7.6"/><circle cx="1689.2" cy="228.4" r="7.6"/><circle cx="1732.5" cy="226.8" r="7.6"/><circle cx="1775.8" cy="225.7" r="7.6"/><circle cx="1819.1" cy="207.9" r="7.6"/><circle cx="1862.4" cy="186.4" r="7.6"/><circle cx="1905.7" cy="174.6" r="7.6"/><circle cx="1949.0" cy="170.0" r="7.6"/><circle cx="1992.3" cy="167.5" r="7.6"/><circle cx="2035.6" cy="165.3" r="7.6"/></g>
<g fill="#F74343"><circle cx="1516.0" cy="141.6" r="7.6"/><circle cx="1559.3" cy="194.0" r="7.6"/><circle cx="1602.6" cy="243.4" r="7.6"/><circle cx="1645.9" cy="269.9" r="7.6"/><circle cx="1689.2" cy="261.4" r="7.6"/><circle cx="1732.5" cy="263.2" r="7.6"/><circle cx="1775.8" cy="268.1" r="7.6"/><circle cx="1819.1" cy="247.6" r="7.6"/><circle cx="1862.4" cy="220.8" r="7.6"/><circle cx="1905.7" cy="210.3" r="7.6"/><circle cx="1949.0" cy="209.5" r="7.6"/><circle cx="1992.3" cy="207.0" r="7.6"/><circle cx="2035.6" cy="201.0" r="7.6"/></g>
<g fill="#1669DE"><circle cx="1516.0" cy="141.6" r="7.6"/><circle cx="1559.3" cy="205.5" r="7.6"/><circle cx="1602.6" cy="265.6" r="7.6"/><circle cx="1645.9" cy="293.2" r="7.6"/><circle cx="1689.2" cy="279.9" r="7.6"/><circle cx="1732.5" cy="286.0" r="7.6"/><circle cx="1775.8" cy="296.7" r="7.6"/><circle cx="1819.1" cy="274.8" r="7.6"/><circle cx="1862.4" cy="243.8" r="7.6"/><circle cx="1905.7" cy="232.7" r="7.6"/><circle cx="1949.0" cy="234.0" r="7.6"/><circle cx="1992.3" cy="232.7" r="7.6"/><circle cx="2035.6" cy="226.0" r="7.6"/></g>
<g fill="#32AD68"><circle cx="1516.0" cy="141.6" r="7.6"/><circle cx="1559.3" cy="206.3" r="7.6"/><circle cx="1602.6" cy="290.8" r="7.6"/><circle cx="1645.9" cy="335.2" r="7.6"/><circle cx="1689.2" cy="311.8" r="7.6"/><circle cx="1732.5" cy="322.3" r="7.6"/><circle cx="1775.8" cy="343.6" r="7.6"/><circle cx="1819.1" cy="316.5" r="7.6"/><circle cx="1862.4" cy="276.3" r="7.6"/><circle cx="1905.7" cy="263.4" r="7.6"/><circle cx="1949.0" cy="262.4" r="7.6"/><circle cx="1992.3" cy="256.2" r="7.6"/><circle cx="2035.6" cy="247.9" r="7.6"/></g>
<g fill="#B46FDE"><circle cx="1516.0" cy="141.6" r="7.6"/><circle cx="1559.3" cy="230.0" r="7.6"/><circle cx="1602.6" cy="347.0" r="7.6"/><circle cx="1645.9" cy="397.4" r="7.6"/><circle cx="1689.2" cy="362.4" r="7.6"/><circle cx="1732.5" cy="376.5" r="7.6"/><circle cx="1775.8" cy="408.3" r="7.6"/><circle cx="1819.1" cy="374.7" r="7.6"/><circle cx="1862.4" cy="321.9" r="7.6"/><circle cx="1905.7" cy="305.4" r="7.6"/><circle cx="1949.0" cy="301.4" r="7.6"/><circle cx="1992.3" cy="288.5" r="7.6"/><circle cx="2035.6" cy="274.2" r="7.6"/></g>
<g fill="#D0A000"><circle cx="1516.0" cy="141.6" r="7.6"/><circle cx="1559.3" cy="184.1" r="7.6"/><circle cx="1602.6" cy="403.2" r="7.6"/><circle cx="1645.9" cy="454.9" r="7.6"/><circle cx="1689.2" cy="405.8" r="7.6"/><circle cx="1732.5" cy="425.5" r="7.6"/><circle cx="1775.8" cy="466.0" r="7.6"/><circle cx="1819.1" cy="421.7" r="7.6"/><circle cx="1862.4" cy="358.3" r="7.6"/><circle cx="1905.7" cy="341.5" r="7.6"/><circle cx="1949.0" cy="335.7" r="7.6"/><circle cx="1992.3" cy="317.1" r="7.6"/><circle cx="2035.6" cy="301.0" r="7.6"/></g>
<path d="M1472.3,5.6V502.4" stroke="#000" stroke-width="5.6" fill="none"/>
<path d="M2078.5,5.6V502.4" stroke="#000" stroke-width="4.4" fill="none"/>
<path d="M1469.5,8.6H2080.7" stroke="#000" stroke-width="6.0" fill="none"/>
<path d="M1469.5,499.5H2080.7" stroke="#000" stroke-width="5.8" fill="none"/>
<text x="1461.6" y="59.1" font-size="34.0" font-weight="bold" text-anchor="end" textLength="56.8" lengthAdjust="spacingAndGlyphs" stroke="#000" stroke-width="0.60">30.0</text>
<text x="1461.6" y="120.5" font-size="34.0" font-weight="bold" text-anchor="end" textLength="56.8" lengthAdjust="spacingAndGlyphs" stroke="#000" stroke-width="0.60">29.7</text>
<text x="1461.6" y="181.9" font-size="34.0" font-weight="bold" text-anchor="end" textLength="56.8" lengthAdjust="spacingAndGlyphs" stroke="#000" stroke-width="0.60">29.4</text>
<text x="1461.6" y="243.3" font-size="34.0" font-weight="bold" text-anchor="end" textLength="56.8" lengthAdjust="spacingAndGlyphs" stroke="#000" stroke-width="0.60">29.1</text>
<text x="1461.6" y="304.7" font-size="34.0" font-weight="bold" text-anchor="end" textLength="56.8" lengthAdjust="spacingAndGlyphs" stroke="#000" stroke-width="0.60">28.8</text>
<text x="1461.6" y="366.1" font-size="34.0" font-weight="bold" text-anchor="end" textLength="56.8" lengthAdjust="spacingAndGlyphs" stroke="#000" stroke-width="0.60">28.5</text>
<text x="1461.6" y="427.4" font-size="34.0" font-weight="bold" text-anchor="end" textLength="56.8" lengthAdjust="spacingAndGlyphs" stroke="#000" stroke-width="0.60">28.2</text>
<text x="1461.6" y="488.8" font-size="34.0" font-weight="bold" text-anchor="end" textLength="56.8" lengthAdjust="spacingAndGlyphs" stroke="#000" stroke-width="0.60">27.9</text>
<text x="1516.0" y="535.3" font-size="32.5" font-weight="bold" text-anchor="middle" stroke="#000" stroke-width="0.60">0</text>
<text x="1602.6" y="535.3" font-size="32.5" font-weight="bold" text-anchor="middle" stroke="#000" stroke-width="0.60">1</text>
<text x="1689.2" y="535.3" font-size="32.5" font-weight="bold" text-anchor="middle" stroke="#000" stroke-width="0.60">2</text>
<text x="1775.8" y="535.3" font-size="32.5" font-weight="bold" text-anchor="middle" stroke="#000" stroke-width="0.60">3</text>
<text x="1862.4" y="535.3" font-size="32.5" font-weight="bold" text-anchor="middle" stroke="#000" stroke-width="0.60">4</text>
<text x="1949.0" y="535.3" font-size="32.5" font-weight="bold" text-anchor="middle" stroke="#000" stroke-width="0.60">5</text>
<text x="2035.6" y="535.3" font-size="32.5" font-weight="bold" text-anchor="middle" stroke="#000" stroke-width="0.60">6</text>
<text x="1770.2" y="560.8" font-size="32.4" font-weight="bold" text-anchor="middle" textLength="125.8" lengthAdjust="spacingAndGlyphs" stroke="#000" stroke-width="0.60">Time [ns]</text>
<text transform="translate(1397.3,475.5) rotate(-90)" font-size="33.3" font-weight="bold" textLength="450.0" lengthAdjust="spacingAndGlyphs" stroke="#000" stroke-width="0.60">Volume fraction of <tspan font-style="italic">m</tspan>-phases(%)</text>
<path d="M1628.7,34.9H1672.8" stroke="#D0A000" stroke-width="5.8" stroke-linecap="round"/>
<text x="1685.3" y="43.1" font-size="21.3" font-weight="bold" text-anchor="start" textLength="121.5" lengthAdjust="spacingAndGlyphs" stroke="#000" stroke-width="0.60">E=1.0MV/cm</text>
<path d="M1628.7,62.0H1672.8" stroke="#B46FDE" stroke-width="5.8" stroke-linecap="round"/>
<text x="1685.3" y="70.2" font-size="21.3" font-weight="bold" text-anchor="start" textLength="121.5" lengthAdjust="spacingAndGlyphs" stroke="#000" stroke-width="0.60">E=0.8MV/cm</text>
<path d="M1628.7,89.0H1672.8" stroke="#32AD68" stroke-width="5.8" stroke-linecap="round"/>
<text x="1685.3" y="97.2" font-size="21.3" font-weight="bold" text-anchor="start" textLength="121.5" lengthAdjust="spacingAndGlyphs" stroke="#000" stroke-width="0.60">E=0.6MV/cm</text>
<path d="M1628.7,116.3H1672.8" stroke="#1669DE" stroke-width="5.8" stroke-linecap="round"/>
<text x="1685.3" y="124.5" font-size="21.3" font-weight="bold" text-anchor="start" textLength="121.5" lengthAdjust="spacingAndGlyphs" stroke="#000" stroke-width="0.60">E=0.4MV/cm</text>
<path d="M1628.7,144.0H1672.8" stroke="#F74343" stroke-width="5.8" stroke-linecap="round"/>
<text x="1685.3" y="152.2" font-size="21.3" font-weight="bold" text-anchor="start" textLength="121.5" lengthAdjust="spacingAndGlyphs" stroke="#000" stroke-width="0.60">E=0.3MV/cm</text>
<path d="M1628.7,170.8H1672.8" stroke="#535452" stroke-width="5.8" stroke-linecap="round"/>
<text x="1685.3" y="179.0" font-size="21.3" font-weight="bold" text-anchor="start" textLength="121.5" lengthAdjust="spacingAndGlyphs" stroke="#000" stroke-width="0.60">E=0.2MV/cm</text>
<text x="1779.3" y="618.6" font-size="45.5" font-weight="normal" text-anchor="middle" stroke="#000" stroke-width="0.80">(c)</text>
</svg>
</body></html>
